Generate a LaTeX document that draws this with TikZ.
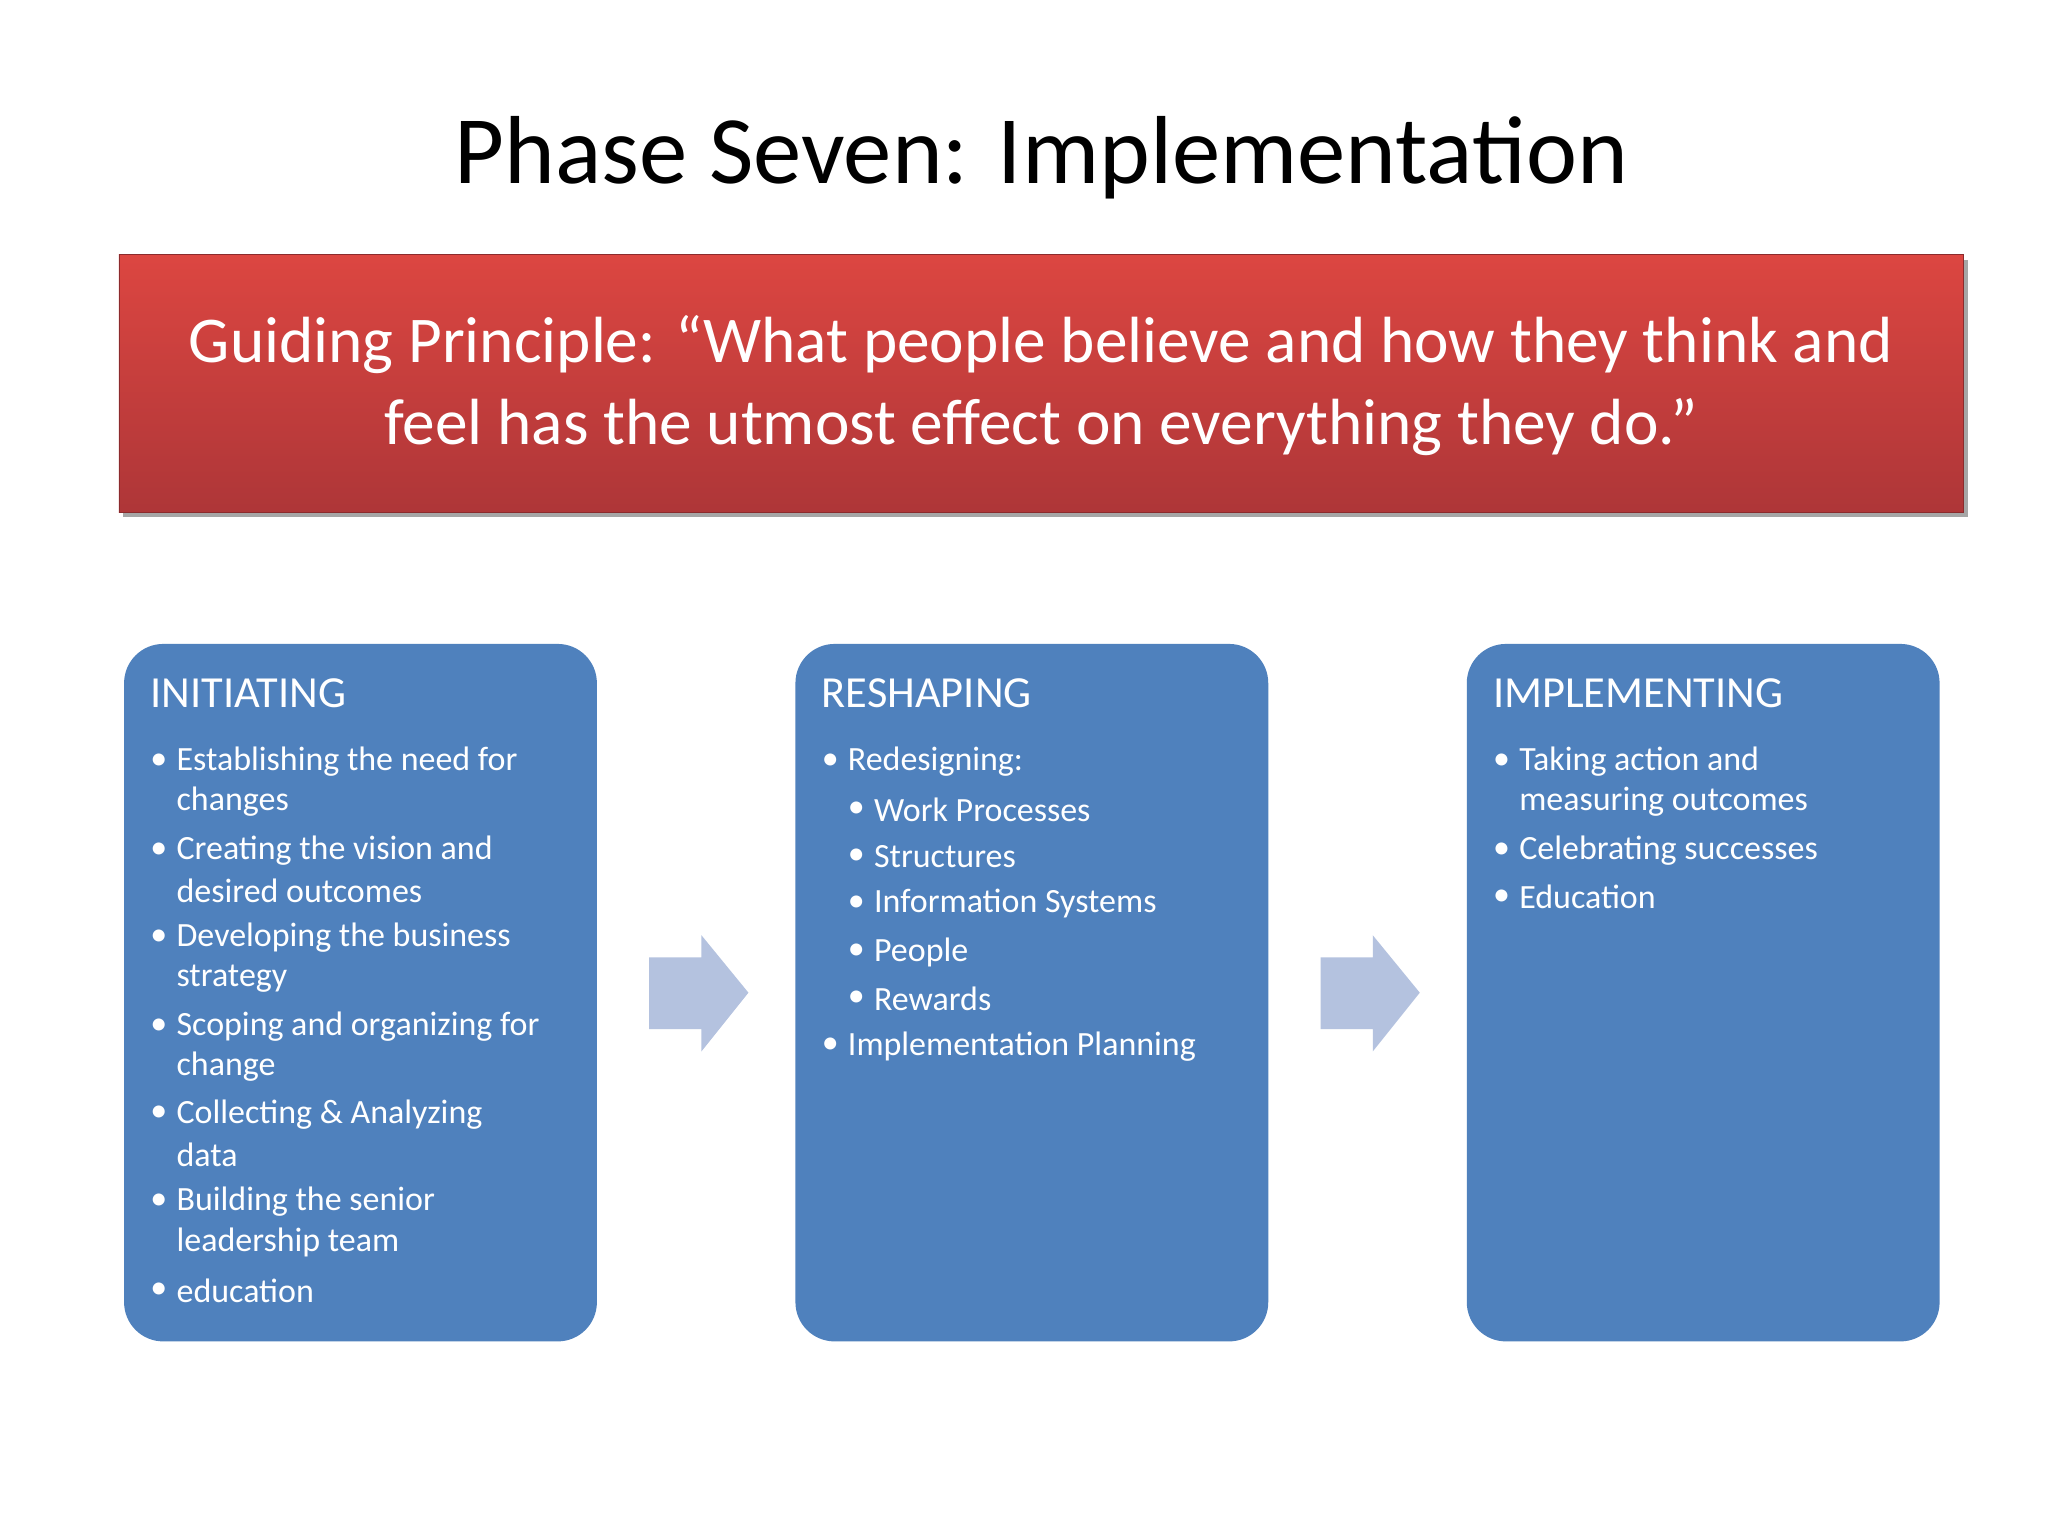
\documentclass[tikz,border=0pt]{standalone}
\usepackage{fontspec}
\setmainfont{Carlito}
\usetikzlibrary{shapes.arrows,shadows}
\definecolor{boxblue}{HTML}{4F81BD}
\definecolor{arrowblue}{HTML}{B4C2DF}
\definecolor{redtop}{HTML}{DC4641}
\definecolor{redbot}{HTML}{AE3638}
\tikzset{
 phasebox/.style={fill=boxblue,rounded corners=30pt},
 head/.style={anchor=west,text=white,font=\fontsize{34}{40}\selectfont,inner sep=0pt},
 item/.style={anchor=west,text=white,font=\fontsize{26}{31}\selectfont,inner sep=0pt},
 dot/.style={anchor=west,text=white,font=\fontsize{26}{31}\selectfont,inner sep=0pt},
 flowarrow/.style={fill=arrowblue}
}
\begin{document}
\begin{tikzpicture}[x=1pt,y=-1pt]
\useasboundingbox (0,0) rectangle (1568,1176);
\fill[white] (0,0) rectangle (1568,1176);
\node[font=\fontsize{74}{88}\selectfont] (title) at (797,121) {Phase Seven: Implementation};
\fill[black!35] (94,199) rectangle (1507,396);
\shade[top color=redtop,bottom color=redbot,draw=redbot!80!black] (91,195) rectangle (1503,392);
\node[text=white,align=center,font=\fontsize{50}{63}\selectfont] (guide) at (797,295) {Guiding Principle: “What people believe and how they think and\\feel has the utmost effect on everything they do.”};
\fill[phasebox] (95,493) rectangle (457,1027);
\fill[phasebox] (609,493) rectangle (971,1027);
\fill[phasebox] (1123,493) rectangle (1485,1027);
\fill[flowarrow] (497,733) -- (537,733) -- (537,716) -- (573,760) -- (537,805) -- (537,788) -- (497,788) -- cycle;
\fill[flowarrow] (1011,733) -- (1051,733) -- (1051,716) -- (1087,760) -- (1051,805) -- (1051,788) -- (1011,788) -- cycle;
% INITIATING
\node[head] (h1) at (115,531) {INITIATING};
\foreach \y/\t in {583/Establishing the need for,614/changes,651/Creating the vision and,682/desired outcomes,718/Developing the business,749/strategy,786/Scoping and organizing for,817/change,853/Collecting \& Analyzing,884/data,920/Building the senior,951/leadership team,988/education}
  \node[item] at (135,\y) {\t};
\foreach \y in {583,651,718,786,853,920,988} \node[dot] at (115,\y) {•};
% RESHAPING
\node[head] (h2) at (629,531) {RESHAPING};
\foreach \y/\t in {583/Redesigning:,801/Implementation Planning}
  \node[item] at (649,\y) {\t};
\foreach \y in {583,801} \node[dot] at (629,\y) {•};
\foreach \y/\t in {620/Work Processes,656/Structures,692/Information Systems,729/People,765/Rewards}
  {\node[item] at (669,\y) {\t}; \node[dot] at (649,\y) {•};}
% IMPLEMENTING
\node[head] (h3) at (1143,531) {IMPLEMENTING};
\foreach \y/\t in {583/Taking action and,614/measuring outcomes,651/Celebrating successes,687/Education}
  \node[item] at (1163,\y) {\t};
\foreach \y in {583,651,687} \node[dot] at (1143,\y) {•};
\end{tikzpicture}
\end{document}
